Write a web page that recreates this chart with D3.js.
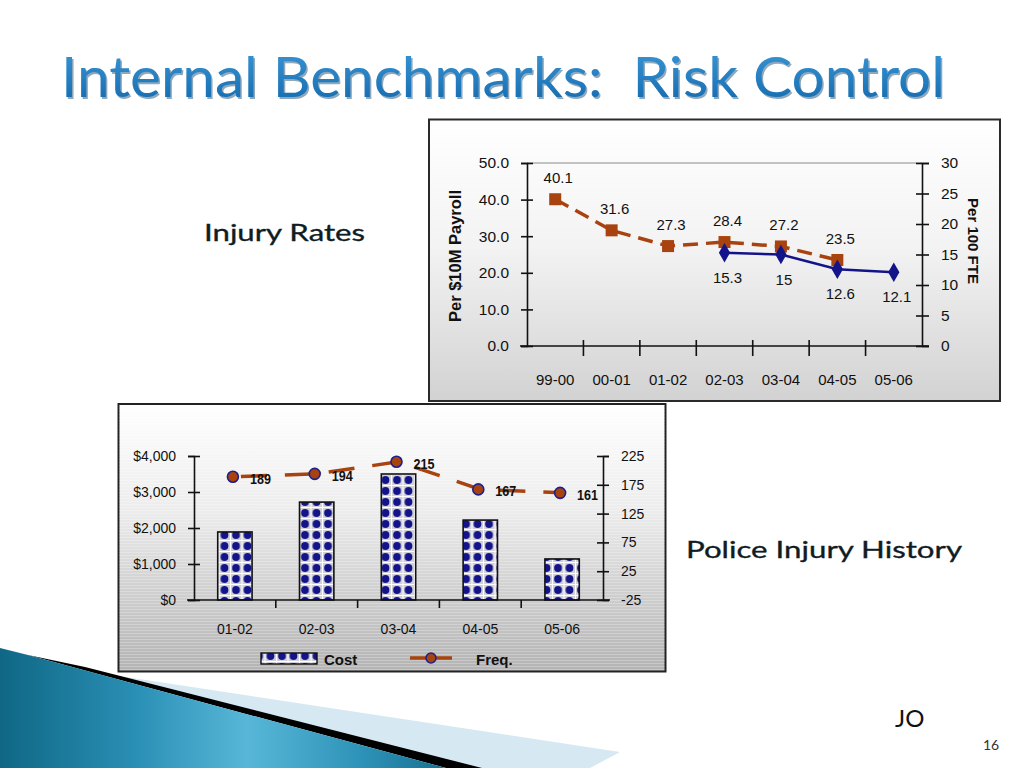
<!DOCTYPE html>
<html><head><meta charset="utf-8">
<script src="https://cdn.jsdelivr.net/npm/d3@7"></script>
<style>html,body{margin:0;padding:0;background:#fff;} svg{display:block;} .pre{white-space:pre;}</style>
</head><body>
<svg id="c" width="1024" height="768"></svg>
<script>
// ---------- DATA ----------
const rateCategories = ["99-00","00-01","01-02","02-03","03-04","04-05","05-06"];
const perPayrollRates = [40.1, 31.6, 27.3, 28.4, 27.2, 23.5, null];
const perFteRates = [null, null, null, 15.3, 15, 12.6, 12.1];
const payrollTicks = [0, 10, 20, 30, 40, 50];
const fteTicks = [0, 5, 10, 15, 20, 25, 30];

const policeCategories = ["01-02","02-03","03-04","04-05","05-06"];
const costValues = [1890, 2720, 3500, 2220, 1140];
const freqValues = [189, 194, 215, 167, 161];
const costTicks = [0, 1000, 2000, 3000, 4000];
const freqTicks = [-25, 25, 75, 125, 175, 225];

// ---------- SETUP ----------
const svg = d3.select("#c");
const defs = svg.append("defs");
const ORANGE = "#a8430f";
const NAVY = "#14148a";
const AX = "Liberation Sans, Arial, sans-serif";
const SLIDE = "Lato, 'Open Sans', sans-serif";

const g1 = defs.append("linearGradient").attr("id","bgTop").attr("x1",0).attr("y1",0).attr("x2",0).attr("y2",1);
g1.append("stop").attr("offset","0%").attr("stop-color","#ffffff");
g1.append("stop").attr("offset","45%").attr("stop-color","#f3f3f3");
g1.append("stop").attr("offset","100%").attr("stop-color","#d2d2d2");

const g2 = defs.append("linearGradient").attr("id","bgBot").attr("x1",0).attr("y1",0).attr("x2",0).attr("y2",1);
g2.append("stop").attr("offset","0%").attr("stop-color","#ffffff");
g2.append("stop").attr("offset","40%").attr("stop-color","#ececec");
g2.append("stop").attr("offset","100%").attr("stop-color","#b3b3b3");

const stripes = defs.append("pattern").attr("id","stripes").attr("patternUnits","userSpaceOnUse")
  .attr("width",8).attr("height",3);
stripes.append("rect").attr("width",8).attr("height",1).attr("fill","#ffffff").attr("opacity",0.25);

const tg = defs.append("linearGradient").attr("id","titleGrad").attr("x1",0).attr("y1",0).attr("x2",0).attr("y2",1);
tg.append("stop").attr("offset","0%").attr("stop-color","#3d9ad8");
tg.append("stop").attr("offset","100%").attr("stop-color","#1168ad");

const bg = defs.append("linearGradient").attr("id","decoBlue").attr("gradientUnits","userSpaceOnUse")
  .attr("x1",0).attr("y1",0).attr("x2",450).attr("y2",0);
[["0%","#0f6784"],["30%","#2a8fb5"],["55%","#58b7d8"],["80%","#2e93b8"],["100%","#146f90"]]
  .forEach(([o,c]) => bg.append("stop").attr("offset",o).attr("stop-color",c));

const pat = defs.append("pattern").attr("id","dots").attr("patternUnits","userSpaceOnUse")
  .attr("width",11.5).attr("height",11).attr("x",0).attr("y",1);
pat.append("rect").attr("width",11.5).attr("height",11).attr("fill","#d0d0d6");
pat.append("line").attr("x1",0).attr("x2",11.5).attr("y1",0.5).attr("y2",0.5).attr("stroke","#ffffff").attr("stroke-width",1);
pat.append("line").attr("x1",0.5).attr("x2",0.5).attr("y1",0).attr("y2",11).attr("stroke","#ffffff").attr("stroke-width",1);
pat.append("circle").attr("cx",6).attr("cy",6).attr("r",3.9).attr("fill",NAVY);

// ---------- DECORATION ----------
svg.append("polygon").attr("points","80,670 620,752 590,768 470,768").attr("fill","#d6e8f1");
svg.append("polygon").attr("points","28,655 85,667 482,768 446,768").attr("fill","#000");
svg.append("polygon").attr("points","0,648 28,655 446,768 0,768").attr("fill","url(#decoBlue)");

// ---------- TITLE / TEXT ----------
const titleText = "Internal Benchmarks:  Risk Control";
svg.append("text").attr("class","pre").attr("x",61).attr("y",97).attr("font-family",SLIDE).attr("font-size",56)
  .attr("textLength",884).attr("lengthAdjust","spacingAndGlyphs")
  .attr("fill","#0b3f6b").attr("opacity",0.45).attr("dx",1.5).attr("dy",1.5)
  .text(titleText);
svg.append("text").attr("class","pre").attr("x",61).attr("y",97).attr("font-family",SLIDE).attr("font-size",56)
  .attr("textLength",884).attr("lengthAdjust","spacingAndGlyphs")
  .attr("fill","url(#titleGrad)")
  .text(titleText);

svg.append("text").attr("x",204).attr("y",241).attr("font-family",SLIDE).attr("font-size",24)
  .attr("textLength",161).attr("lengthAdjust","spacingAndGlyphs").attr("fill","#101c24")
  .attr("stroke","#101c24").attr("stroke-width",0.35).text("Injury Rates");
svg.append("text").attr("x",686).attr("y",558).attr("font-family",SLIDE).attr("font-size",24)
  .attr("textLength",276).attr("lengthAdjust","spacingAndGlyphs").attr("fill","#101c24")
  .attr("stroke","#101c24").attr("stroke-width",0.35).text("Police Injury History");
svg.append("text").attr("x",895).attr("y",727).attr("font-family",SLIDE).attr("font-size",24)
  .attr("fill","#111").text("JO");
svg.append("text").attr("x",983).attr("y",750).attr("font-family",SLIDE).attr("font-size",14)
  .attr("fill","#333").text("16");

// ---------- TOP CHART ----------
const T = svg.append("g");
T.append("rect").attr("x",429).attr("y",119.5).attr("width",571).attr("height",281.5)
  .attr("fill","url(#bgTop)").attr("stroke","#2a2a2a").attr("stroke-width",2);

const tx = d3.scaleBand().domain(rateCategories).range([527, 922]);
const tyL = d3.scaleLinear().domain([0, 50]).range([346, 163]);
const tyR = d3.scaleLinear().domain([0, 30]).range([346, 163]);

T.append("line").attr("x1",527).attr("x2",922).attr("y1",tyL(50)).attr("y2",tyL(50))
  .attr("stroke","#8a8a8a").attr("stroke-width",1);

const styleAxis = (g, size) => {
  g.selectAll("text").attr("font-family",AX).attr("font-size",size).attr("fill","#111");
  g.selectAll("line, path").attr("stroke","#111").attr("stroke-width",1.6);
};

const leftAx = T.append("g").attr("transform",`translate(527,0)`)
  .call(d3.axisLeft(tyL).tickValues(payrollTicks).tickFormat(d3.format(".1f")).tickSizeOuter(0).tickSize(6).tickPadding(12));
leftAx.selectAll(".tick line").attr("x1",6);
styleAxis(leftAx, 15.5);

const rightAx = T.append("g").attr("transform",`translate(922,0)`)
  .call(d3.axisRight(tyR).tickValues(fteTicks).tickFormat(d=>String(d)).tickSizeOuter(0).tickSize(7).tickPadding(12));
rightAx.selectAll(".tick line").attr("x1",-6);
styleAxis(rightAx, 15.5);

const botAx = T.append("g").attr("transform",`translate(0,346)`)
  .call(d3.axisBottom(tx).tickSize(0).tickSizeOuter(0).tickPadding(28));
botAx.select(".domain").attr("d","M520,0H929");
styleAxis(botAx, 15);
T.selectAll(".xb").data(rateCategories.slice(1)).join("line")
  .attr("x1",d=>tx(d)).attr("x2",d=>tx(d)).attr("y1",340).attr("y2",356)
  .attr("stroke","#111").attr("stroke-width",1.6);

T.append("text").attr("transform",`translate(461,256) rotate(-90)`).attr("text-anchor","middle")
  .attr("font-family",AX).attr("font-weight","bold").attr("font-size",16.5).attr("fill","#111")
  .text("Per $10M Payroll");
T.append("text").attr("transform",`translate(968,241) rotate(90)`).attr("text-anchor","middle")
  .attr("font-family",AX).attr("font-weight","bold").attr("font-size",15).attr("fill","#111")
  .text("Per 100 FTE");

const cx = d => tx(d) + tx.bandwidth()/2;
const payData = rateCategories.map((c,i)=>({c, v: perPayrollRates[i]})).filter(d=>d.v!=null);
const fteData = rateCategories.map((c,i)=>({c, v: perFteRates[i]})).filter(d=>d.v!=null);

T.append("path").datum(payData)
  .attr("d", d3.line().x(d=>cx(d.c)).y(d=>tyL(d.v)))
  .attr("fill","none").attr("stroke",ORANGE).attr("stroke-width",3.5).attr("stroke-dasharray","15,8");
T.append("path").datum(fteData)
  .attr("d", d3.line().x(d=>cx(d.c)).y(d=>tyR(d.v)))
  .attr("fill","none").attr("stroke",NAVY).attr("stroke-width",2.5);

T.selectAll(".sq").data(payData).join("rect")
  .attr("x",d=>cx(d.c)-6).attr("y",d=>tyL(d.v)-6).attr("width",12).attr("height",12)
  .attr("fill",ORANGE);
T.selectAll(".dm").data(fteData).join("path")
  .attr("transform",d=>`translate(${cx(d.c)},${tyR(d.v)})`)
  .attr("d", d3.symbol().type(d3.symbolDiamond).size(110))
  .attr("fill",NAVY);

T.selectAll(".pl").data(payData).join("text")
  .attr("x",d=>cx(d.c)+3).attr("y",d=>tyL(d.v)-16)
  .attr("text-anchor","middle").attr("font-family",AX).attr("font-size",15).attr("fill","#111")
  .text(d=>d.v.toFixed(1));
T.selectAll(".fl").data(fteData).join("text")
  .attr("x",d=>cx(d.c)+3).attr("y",d=>tyR(d.v)+30)
  .attr("text-anchor","middle").attr("font-family",AX).attr("font-size",15).attr("fill","#111")
  .text(d=>d.v);

// ---------- BOTTOM CHART ----------
const B = svg.append("g");
B.append("rect").attr("x",118.5).attr("y",404).attr("width",547).attr("height",267.5)
  .attr("fill","url(#bgBot)").attr("stroke","#222").attr("stroke-width",2);
B.append("rect").attr("x",119.5).attr("y",405).attr("width",545).attr("height",265.5)
  .attr("fill","url(#stripes)");

const bx = d3.scaleBand().domain(policeCategories).range([194, 603]).paddingInner(0.58).paddingOuter(0.29);
const bxb = d3.scaleBand().domain(policeCategories).range([194, 603]);
const byL = d3.scaleLinear().domain([0, 4000]).range([600, 456]);
const byR = d3.scaleLinear().domain([-25, 225]).range([600, 456]);

B.selectAll(".bar").data(policeCategories).join("rect")
  .attr("x",d=>bx(d)).attr("y",(d,i)=>byL(costValues[i]))
  .attr("width",bx.bandwidth()).attr("height",(d,i)=>byL(0)-byL(costValues[i]))
  .attr("fill","url(#dots)").attr("stroke","#111").attr("stroke-width",1.6);

const bl = B.append("g").attr("transform","translate(194,0)")
  .call(d3.axisLeft(byL).tickValues(costTicks).tickFormat(d=>"$"+d3.format(",")(d)).tickSizeOuter(0).tickSize(6).tickPadding(12));
bl.selectAll(".tick line").attr("x1",6);
styleAxis(bl, 14);

const br = B.append("g").attr("transform","translate(603,0)")
  .call(d3.axisRight(byR).tickValues(freqTicks).tickFormat(d=>String(d)).tickSizeOuter(0).tickSize(6).tickPadding(12));
br.selectAll(".tick line").attr("x1",-6);
styleAxis(br, 14);

const bb = B.append("g").attr("transform","translate(0,600)")
  .call(d3.axisBottom(bxb).tickSize(0).tickSizeOuter(0).tickPadding(24));
bb.select(".domain").attr("d","M187,0H610");
styleAxis(bb, 14);
B.selectAll(".bxt").data(policeCategories.slice(1)).join("line")
  .attr("x1",d=>bxb(d)).attr("x2",d=>bxb(d)).attr("y1",600).attr("y2",608)
  .attr("stroke","#111").attr("stroke-width",1.6);

const bcx = d => bxb(d) + bxb.bandwidth()/2;
const freqData = policeCategories.map((c,i)=>({c, v: freqValues[i]}));
B.append("path").datum(freqData)
  .attr("d", d3.line().x(d=>bcx(d.c)).y(d=>byR(d.v)))
  .attr("fill","none").attr("stroke",ORANGE).attr("stroke-width",3.5).attr("stroke-dasharray","26,18")
  .attr("stroke-dashoffset",-6);
B.selectAll(".fc").data(freqData).join("circle")
  .attr("cx",d=>bcx(d.c)-2).attr("cy",d=>byR(d.v)).attr("r",5.5)
  .attr("fill",ORANGE).attr("stroke","#1f1f8a").attr("stroke-width",1.6);
B.selectAll(".flab").data(freqData).join("text")
  .attr("x",d=>bcx(d.c)+15).attr("y",d=>byR(d.v)+7)
  .attr("font-family",AX).attr("font-weight","bold").attr("font-size",15.5)
  .attr("textLength",21).attr("lengthAdjust","spacingAndGlyphs").attr("fill","#111")
  .text(d=>d.v);

B.append("rect").attr("x",261).attr("y",653).attr("width",56).attr("height",11)
  .attr("fill","url(#dots)").attr("stroke","#111").attr("stroke-width",1.4);
B.append("text").attr("x",324).attr("y",665).attr("font-family",AX).attr("font-weight","bold")
  .attr("font-size",15).attr("fill","#111").text("Cost");
B.append("line").attr("x1",410).attr("x2",452).attr("y1",658).attr("y2",658)
  .attr("stroke",ORANGE).attr("stroke-width",3.5);
B.append("circle").attr("cx",431).attr("cy",658).attr("r",5)
  .attr("fill",ORANGE).attr("stroke","#1f1f8a").attr("stroke-width",1.5);
B.append("text").attr("x",476).attr("y",665).attr("font-family",AX).attr("font-weight","bold")
  .attr("font-size",15).attr("fill","#111").text("Freq.");
</script>
</body></html>
